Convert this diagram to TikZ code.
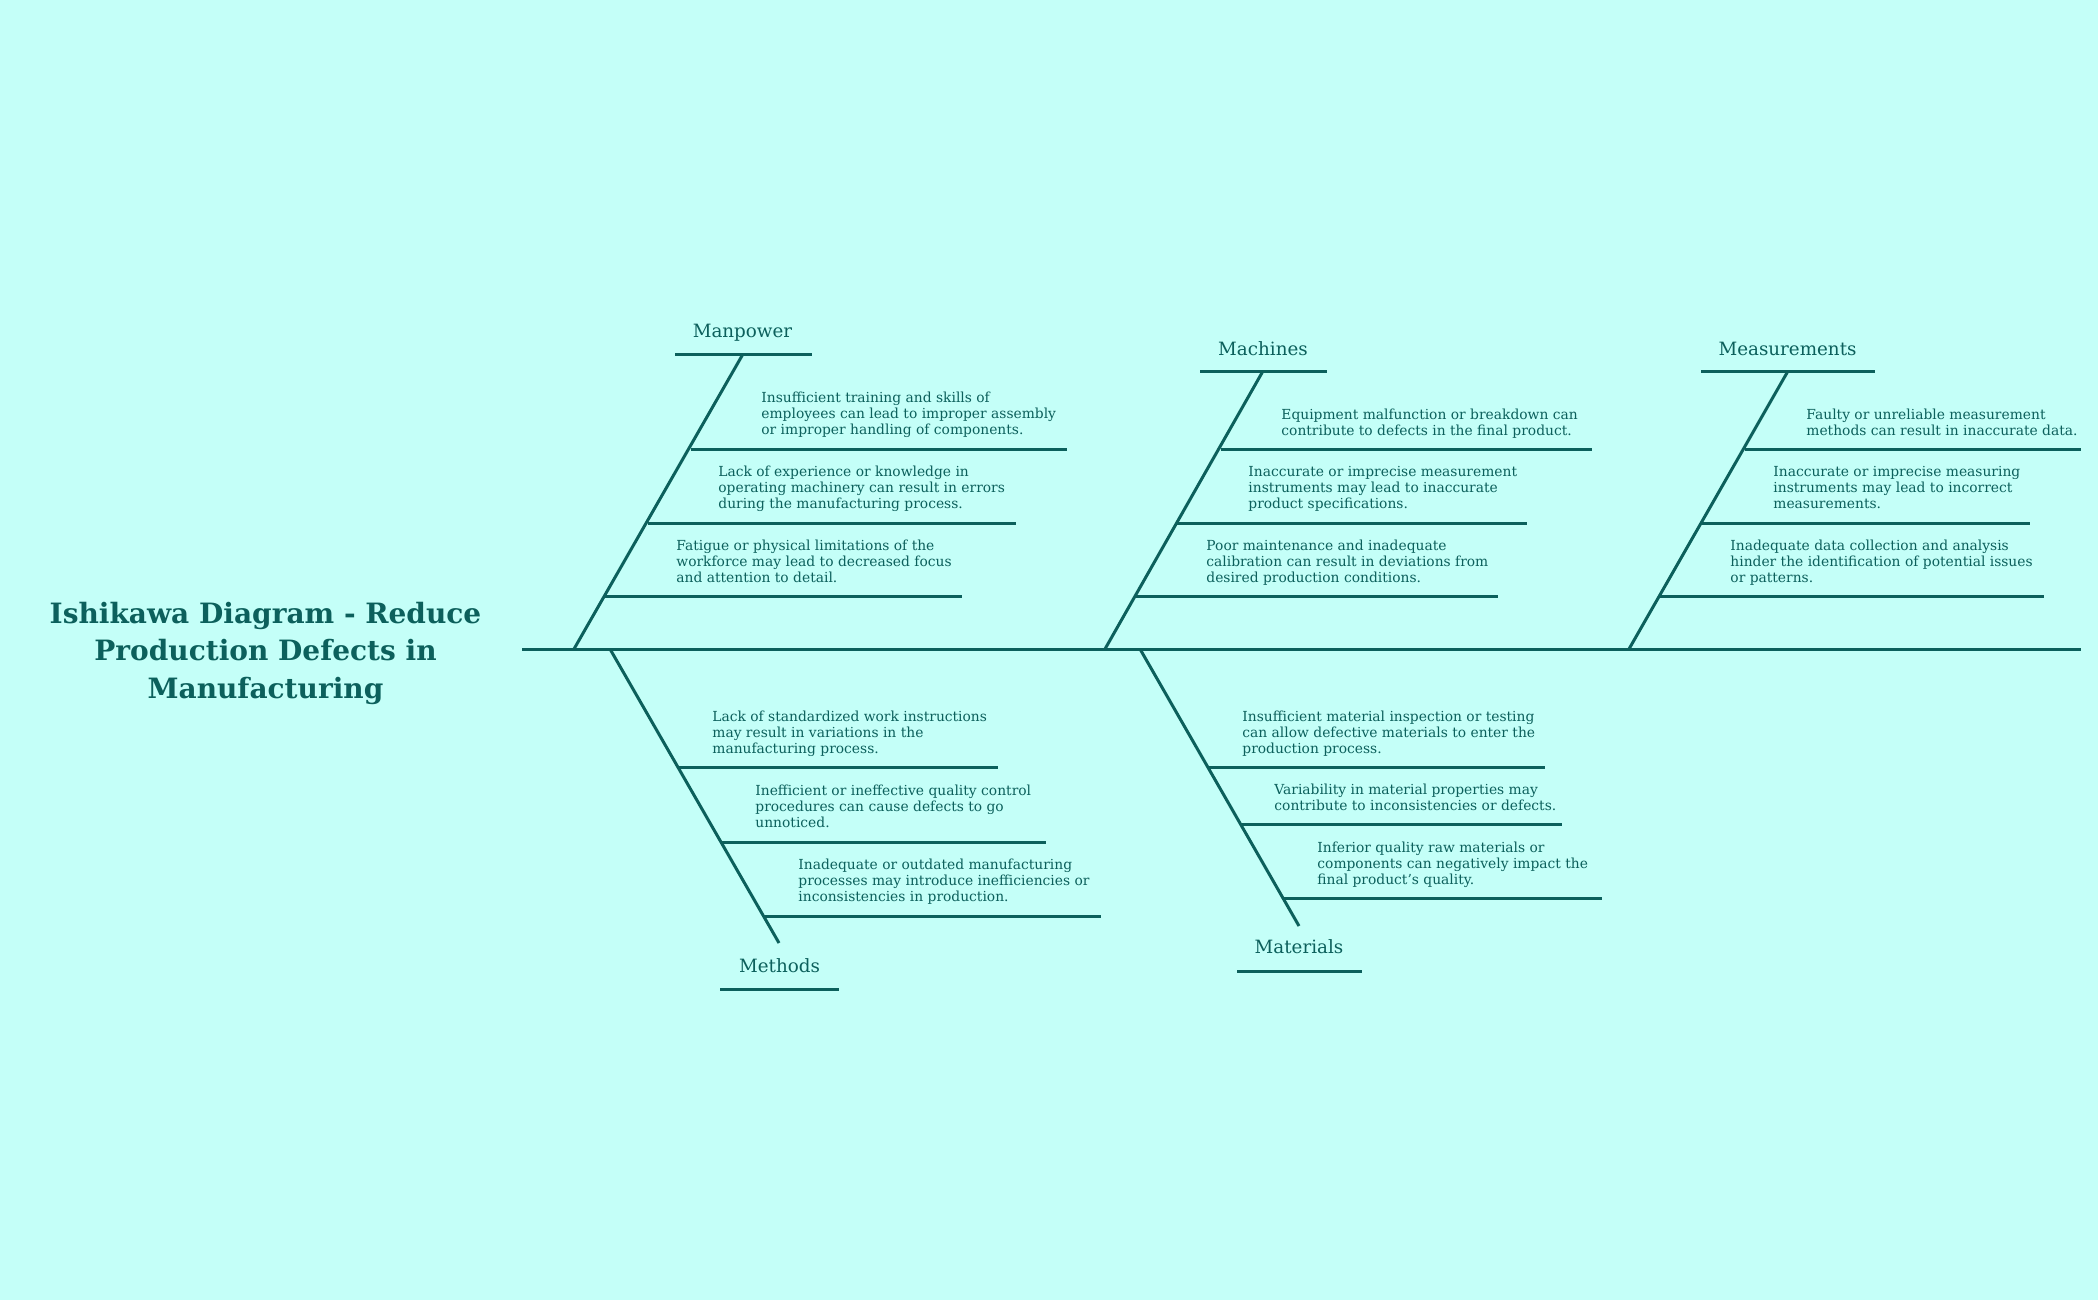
\documentclass[tikz,border=0pt]{standalone}
\usepackage{fontspec}
\setmainfont{DejaVu Serif}
\definecolor{bgc}{RGB}{196,255,248}
\definecolor{ink}{RGB}{12,96,92}
\begin{document}
\begin{tikzpicture}[x=0.5pt,y=-0.5pt,
  bone/.style={draw=ink,line width=1.5pt},
  cause/.style={anchor=base west,align=left,inner sep=0pt,text=ink,font=\fontsize{6.92pt}{8.15pt}\selectfont},
  cat/.style={anchor=base,inner sep=0pt,text=ink,font=\fontsize{9.15pt}{10pt}\selectfont},
  ttl/.style={anchor=base,align=center,inner sep=0pt,text=ink,font=\fontsize{14pt}{18.75pt}\selectfont\bfseries}]
\fill[bgc] (0,0) rectangle (2098,1300);
\useasboundingbox (0,0) rectangle (2098,1300);
% title (anchor at baseline of last line)
\node[ttl] (title) at (265.5,698) {Ishikawa Diagram - Reduce\\Production Defects in\\Manufacturing};
% spine
\coordinate (s0) at (522,649);
\coordinate (s1) at (2081,649);
\draw[bone] (s0) -- (s1);
% ---------- Manpower ----------
\coordinate (mpT) at (743,354); \coordinate (mpB) at (574,649);
\draw[bone] (675,354) coordinate (mpU0) -- (812,354) coordinate (mpU1);
\draw[bone] (mpT) -- (mpB);
\node[cat] (mp) at (742.5,337) {Manpower};
\draw[bone] (691,449) coordinate (mp1a) -- (1067,449) coordinate (mp1b);
\draw[bone] (648,523) coordinate (mp2a) -- (1016,523) coordinate (mp2b);
\draw[bone] (605,596) coordinate (mp3a) -- (962,596) coordinate (mp3b);
\node[cause] (mpt1) at (761,434.6) {Insufficient training and skills of\\employees can lead to improper assembly\\or improper handling of components.};
\node[cause] (mpt2) at (718,508.6) {Lack of experience or knowledge in\\operating machinery can result in errors\\during the manufacturing process.};
\node[cause] (mpt3) at (676,582.6) {Fatigue or physical limitations of the\\workforce may lead to decreased focus\\and attention to detail.};
% ---------- Machines ----------
\coordinate (maT) at (1263,371); \coordinate (maB) at (1105,649);
\draw[bone] (1200,371) coordinate (maU0) -- (1327,371) coordinate (maU1);
\draw[bone] (maT) -- (maB);
\node[cat] (ma) at (1263,355) {Machines};
\draw[bone] (1221,449) coordinate (ma1a) -- (1592,449) coordinate (ma1b);
\draw[bone] (1177,523) coordinate (ma2a) -- (1527,523) coordinate (ma2b);
\draw[bone] (1135,596) coordinate (ma3a) -- (1498,596) coordinate (ma3b);
\node[cause] (mat1) at (1281,435.3) {Equipment malfunction or breakdown can\\contribute to defects in the final product.};
\node[cause] (mat2) at (1248,508.6) {Inaccurate or imprecise measurement\\instruments may lead to inaccurate\\product specifications.};
\node[cause] (mat3) at (1206,582.6) {Poor maintenance and inadequate\\calibration can result in deviations from\\desired production conditions.};
% ---------- Measurements ----------
\coordinate (meT) at (1788,371); \coordinate (meB) at (1629,649);
\draw[bone] (1701,371) coordinate (meU0) -- (1875,371) coordinate (meU1);
\draw[bone] (meT) -- (meB);
\node[cat] (me) at (1787.5,355) {Measurements};
\draw[bone] (1745,449) coordinate (me1a) -- (2081,449) coordinate (me1b);
\draw[bone] (1702,523) coordinate (me2a) -- (2030,523) coordinate (me2b);
\draw[bone] (1660,596) coordinate (me3a) -- (2044,596) coordinate (me3b);
\node[cause] (met1) at (1806,435.3) {Faulty or unreliable measurement\\methods can result in inaccurate data.};
\node[cause] (met2) at (1773,508.6) {Inaccurate or imprecise measuring\\instruments may lead to incorrect\\measurements.};
\node[cause] (met3) at (1730,582.6) {Inadequate data collection and analysis\\hinder the identification of potential issues\\or patterns.};
% ---------- Methods ----------
\coordinate (mtT) at (610,649); \coordinate (mtB) at (779,943);
\draw[bone] (mtT) -- (mtB);
\draw[bone] (720,989) coordinate (mtU0) -- (839,989) coordinate (mtU1);
\node[cat] (mt) at (779.5,972) {Methods};
\draw[bone] (678,767) coordinate (mt1a) -- (998,767) coordinate (mt1b);
\draw[bone] (721,842) coordinate (mt2a) -- (1046,842) coordinate (mt2b);
\draw[bone] (764,916) coordinate (mt3a) -- (1101,916) coordinate (mt3b);
\node[cause] (mtt1) at (712,753.6) {Lack of standardized work instructions\\may result in variations in the\\manufacturing process.};
\node[cause] (mtt2) at (755,827.6) {Inefficient or ineffective quality control\\procedures can cause defects to go\\unnoticed.};
\node[cause] (mtt3) at (798,901.6) {Inadequate or outdated manufacturing\\processes may introduce inefficiencies or\\inconsistencies in production.};
% ---------- Materials ----------
\coordinate (mlT) at (1140,649); \coordinate (mlB) at (1299,926);
\draw[bone] (mlT) -- (mlB);
\draw[bone] (1237,971) coordinate (mlU0) -- (1362,971) coordinate (mlU1);
\node[cat] (ml) at (1299,953) {Materials};
\draw[bone] (1207,767) coordinate (ml1a) -- (1545,767) coordinate (ml1b);
\draw[bone] (1240,824) coordinate (ml2a) -- (1562,824) coordinate (ml2b);
\draw[bone] (1283,898) coordinate (ml3a) -- (1602,898) coordinate (ml3b);
\node[cause] (mlt1) at (1242,753.6) {Insufficient material inspection or testing\\can allow defective materials to enter the\\production process.};
\node[cause] (mlt2) at (1274,810.3) {Variability in material properties may\\contribute to inconsistencies or defects.};
\node[cause] (mlt3) at (1317,884.6) {Inferior quality raw materials or\\components can negatively impact the\\final product's quality.};
\end{tikzpicture}
\end{document}
